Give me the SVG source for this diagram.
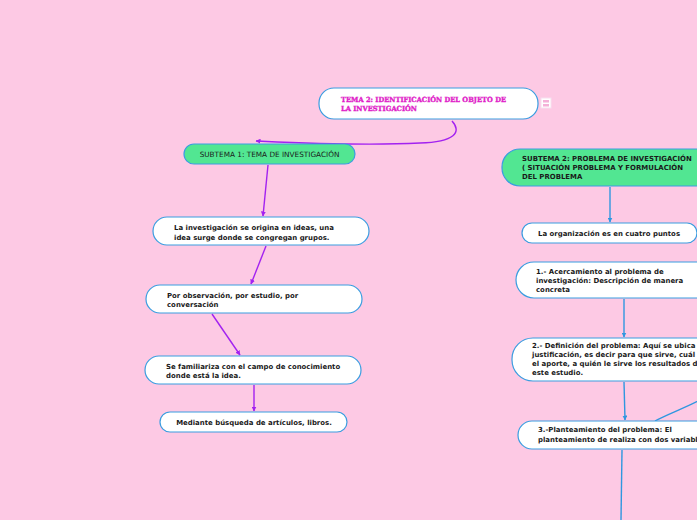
<svg xmlns="http://www.w3.org/2000/svg" width="697" height="520" viewBox="0 0 697 520">
<defs>
<style>
.bg{fill:#fdc9e4}
.box{fill:#ffffff;stroke:#3a9de0;stroke-width:1.2}
.green{fill:#52e692;stroke:#3a9de0;stroke-width:1.2}
.t{font-family:"DejaVu Sans",Verdana,sans-serif;font-size:6.95px;font-weight:bold;fill:#1a1a1a}
.tn{font-family:"DejaVu Sans",Verdana,sans-serif;font-size:7.3px;fill:#1a1a1a}
.root{font-family:"DejaVu Serif","Liberation Serif",serif;font-size:7px;font-weight:bold;fill:#e01cc8;stroke:#e01cc8;stroke-width:0.35}
.cp{fill:none;stroke:#a322f0;stroke-width:1.4}
.cb{fill:none;stroke:#2f97e0;stroke-width:1.4}
</style>
<marker id="ap" viewBox="0 0 10 10" refX="9" refY="5" markerWidth="5" markerHeight="5" orient="auto" markerUnits="userSpaceOnUse"><path d="M0,0 L10,5 L0,10 z" fill="#a322f0"/></marker>
<marker id="ab" viewBox="0 0 10 10" refX="9" refY="5" markerWidth="5" markerHeight="5" orient="auto" markerUnits="userSpaceOnUse"><path d="M0,0 L10,5 L0,10 z" fill="#2f97e0"/></marker>
</defs>
<rect class="bg" x="0" y="0" width="697" height="520"/>

<g id="connectors">
<path class="cp" d="M452,121 C462,132 455,142 420,143 C360,146 300,143 256,141" marker-end="url(#ap)"/>
<path class="cp" d="M268,165 L263,216" marker-end="url(#ap)"/>
<path class="cp" d="M266,246 L251,284" marker-end="url(#ap)"/>
<path class="cp" d="M212,314 L240,355" marker-end="url(#ap)"/>
<path class="cp" d="M254,385 L254,411" marker-end="url(#ap)"/>
<path class="cb" d="M610,187 L610,222" marker-end="url(#ab)"/>
<path class="cb" d="M624,299 L624,337" marker-end="url(#ab)"/>
<path class="cb" d="M624,382 L625,420" marker-end="url(#ab)"/>
<path class="cb" d="M655,421 C668,414 685,408 700,400"/>
<path class="cb" d="M622,450 L621,520"/>
</g>

<g id="root">
<rect class="box" x="319" y="88" width="219" height="31" rx="15"/>
<text class="root" x="341" y="102" textLength="165" lengthAdjust="spacingAndGlyphs">TEMA 2: IDENTIFICACIÓN DEL OBJETO DE</text>
<text class="root" x="341" y="111" textLength="76" lengthAdjust="spacingAndGlyphs">LA INVESTIGACIÓN</text>
</g>
<g id="root-icon">
<rect x="541" y="98" width="10" height="10" fill="#ffffff" stroke="#f8e0ef" stroke-width="1"/>
<rect x="543" y="100" width="6" height="2.5" fill="#f4b0d8"/>
<rect x="543" y="104" width="6" height="2.5" fill="#f4b0d8"/>
</g>

<g id="subtema1">
<rect class="green" x="184" y="144" width="171" height="20" rx="10"/>
<text class="tn" x="269.5" y="157" text-anchor="middle">SUBTEMA 1: TEMA DE INVESTIGACIÓN</text>
</g>
<g id="n-investigacion">
<rect class="box" x="153" y="217" width="216" height="28" rx="14"/>
<text class="t" x="174" y="230">La investigación se origina en ideas, una</text>
<text class="t" x="174" y="240">idea surge donde se congregan grupos.</text>
</g>
<g id="n-observacion">
<rect class="box" x="146" y="285" width="216" height="28" rx="14"/>
<text class="t" x="167" y="298">Por observación, por estudio, por</text>
<text class="t" x="167" y="307">conversación</text>
</g>
<g id="n-familiariza">
<rect class="box" x="145" y="356" width="216" height="28" rx="14"/>
<text class="t" x="166" y="369">Se familiariza con el campo de conocimiento</text>
<text class="t" x="166" y="378">donde está la idea.</text>
</g>
<g id="n-mediante">
<rect class="box" x="160" y="412" width="187" height="20" rx="10"/>
<text class="t" x="254" y="425" text-anchor="middle">Mediante búsqueda de artículos, libros.</text>
</g>

<g id="subtema2">
<rect class="green" x="502" y="149" width="215" height="37" rx="18"/>
<text class="t" x="522" y="161">SUBTEMA 2: PROBLEMA DE INVESTIGACIÓN</text>
<text class="t" x="522" y="170">( SITUACIÓN PROBLEMA Y FORMULACIÓN</text>
<text class="t" x="522" y="179">DEL PROBLEMA</text>
</g>
<g id="n-organizacion">
<rect class="box" x="522" y="223" width="175" height="20" rx="10"/>
<text class="t" x="538" y="236">La organización es en cuatro puntos</text>
</g>
<g id="n-punto1">
<rect class="box" x="516" y="262" width="220" height="36" rx="18"/>
<text class="t" x="536" y="274">1.- Acercamiento al problema de</text>
<text class="t" x="536" y="283">investigación: Descripción de manera</text>
<text class="t" x="536" y="292">concreta</text>
</g>
<g id="n-punto2">
<rect class="box" x="512" y="338" width="230" height="43" rx="21"/>
<text class="t" x="532" y="348">2.- Definición del problema: Aquí se ubica</text>
<text class="t" x="532" y="357">justificación, es decir para que sirve, cuál</text>
<text class="t" x="532" y="366">el aporte, a quién le sirve los resultados de</text>
<text class="t" x="532" y="375">este estudio.</text>
</g>
<g id="n-punto3">
<rect class="box" x="518" y="421" width="230" height="28" rx="14"/>
<text class="t" x="538" y="432">3.-Planteamiento del problema: El</text>
<text class="t" x="538" y="442">planteamiento de realiza con dos variables</text>
</g>
</svg>
